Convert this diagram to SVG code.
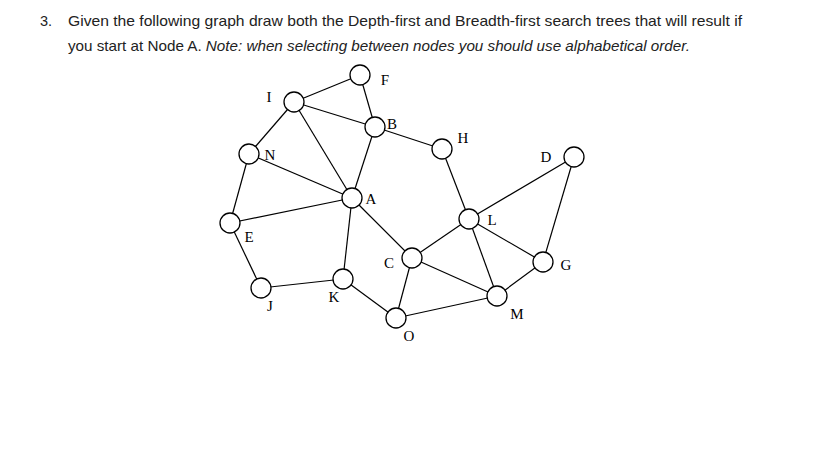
<svg xmlns="http://www.w3.org/2000/svg" width="819" height="460" viewBox="0 0 819 460">
<style>
.n{fill:#fff;stroke:#000;stroke-width:1.3}
.e line{stroke:#000;stroke-width:1.2}
.l{font-family:"Liberation Serif",serif;font-size:15px;fill:#000;text-anchor:middle}
.h{font-family:"Liberation Sans",sans-serif;font-size:14.5px;fill:#222}
</style>
<rect width="819" height="460" fill="#fff"/>
<text class="h" x="40" y="26">3.</text>
<text class="h" x="68" y="26" textLength="674" lengthAdjust="spacingAndGlyphs">Given the following graph draw both the Depth-first and Breadth-first search trees that will result if</text>
<text class="h" x="68" y="51" textLength="622" lengthAdjust="spacingAndGlyphs">you start at Node A. <tspan font-style="italic">Note: when selecting between nodes you should use alphabetical order.</tspan></text>
<g class="e">
<line x1="360" y1="75" x2="294" y2="102"/><line x1="360" y1="75" x2="375" y2="127"/>
<line x1="294" y1="102" x2="375" y2="127"/><line x1="294" y1="102" x2="249" y2="154"/>
<line x1="294" y1="102" x2="352" y2="198"/><line x1="375" y1="127" x2="352" y2="198"/>
<line x1="375" y1="127" x2="442" y2="149"/><line x1="249" y1="154" x2="352" y2="198"/>
<line x1="249" y1="154" x2="230" y2="223"/><line x1="230" y1="223" x2="352" y2="198"/>
<line x1="230" y1="223" x2="261" y2="288"/><line x1="261" y1="288" x2="343" y2="279"/>
<line x1="343" y1="279" x2="352" y2="198"/><line x1="343" y1="279" x2="396" y2="318"/>
<line x1="352" y1="198" x2="412" y2="258"/><line x1="412" y1="258" x2="469" y2="219"/>
<line x1="412" y1="258" x2="497" y2="296"/><line x1="412" y1="258" x2="396" y2="318"/>
<line x1="396" y1="318" x2="497" y2="296"/><line x1="442" y1="149" x2="469" y2="219"/>
<line x1="469" y1="219" x2="574" y2="157"/><line x1="469" y1="219" x2="497" y2="296"/>
<line x1="469" y1="219" x2="543" y2="262"/><line x1="574" y1="157" x2="543" y2="262"/>
<line x1="543" y1="262" x2="497" y2="296"/>
</g>
<g id="F"><circle class="n" cx="360" cy="75" r="10"/><text class="l" x="385" y="85">F</text></g>
<g id="I"><circle class="n" cx="294" cy="102" r="10"/><text class="l" x="269" y="102">I</text></g>
<g id="B"><circle class="n" cx="375" cy="127" r="10"/><text class="l" x="392" y="129">B</text></g>
<g id="H"><circle class="n" cx="442" cy="149" r="10"/><text class="l" x="463" y="143">H</text></g>
<g id="N"><circle class="n" cx="249" cy="154" r="10"/><text class="l" x="270" y="160">N</text></g>
<g id="D"><circle class="n" cx="574" cy="157" r="10"/><text class="l" x="546" y="162">D</text></g>
<g id="A"><circle class="n" cx="352" cy="198" r="10"/><text class="l" x="371" y="204">A</text></g>
<g id="L"><circle class="n" cx="469" cy="219" r="10"/><text class="l" x="492" y="225">L</text></g>
<g id="E"><circle class="n" cx="230" cy="223" r="10"/><text class="l" x="249" y="242">E</text></g>
<g id="C"><circle class="n" cx="412" cy="258" r="10"/><text class="l" x="389" y="268">C</text></g>
<g id="G"><circle class="n" cx="543" cy="262" r="10"/><text class="l" x="566" y="270">G</text></g>
<g id="K"><circle class="n" cx="343" cy="279" r="10"/><text class="l" x="334" y="302">K</text></g>
<g id="J"><circle class="n" cx="261" cy="288" r="10"/><text class="l" x="270" y="311">J</text></g>
<g id="M"><circle class="n" cx="497" cy="296" r="10"/><text class="l" x="517" y="319">M</text></g>
<g id="O"><circle class="n" cx="396" cy="318" r="10"/><text class="l" x="409" y="341">O</text></g>
</svg>
